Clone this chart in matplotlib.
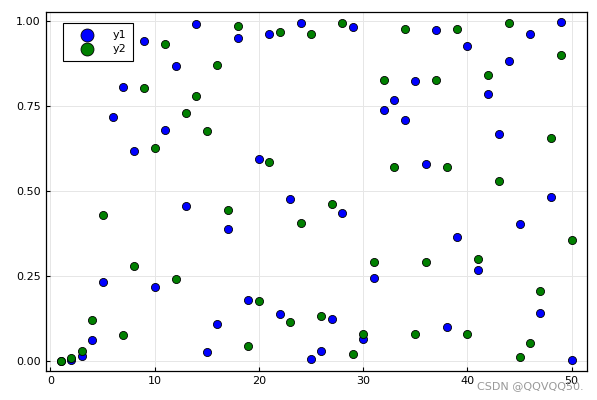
import matplotlib.pyplot as plt
import numpy as np

x = np.arange(1, 51)

y1 = [0.000, 0.003, 0.014, 0.061, 0.233, 0.718, 0.807, 0.619, 0.941, 0.217,
      0.680, 0.867, 0.457, 0.992, 0.027, 0.109, 0.389, 0.951, 0.180, 0.593,
      0.962, 0.137, 0.475, 0.996, 0.006, 0.030, 0.123, 0.434, 0.982, 0.064,
      0.243, 0.739, 0.768, 0.709, 0.823, 0.579, 0.974, 0.100, 0.365, 0.926,
      0.268, 0.786, 0.668, 0.884, 0.403, 0.962, 0.140, 0.483, 0.997, 0.002]

y2 = [0.000, 0.007, 0.030, 0.121, 0.429, 0.930, 0.075, 0.278, 0.804, 0.626,
      0.934, 0.240, 0.731, 0.781, 0.677, 0.871, 0.444, 0.986, 0.045, 0.176,
      0.584, 0.969, 0.114, 0.406, 0.963, 0.133, 0.463, 0.994, 0.020, 0.078,
      0.290, 0.826, 0.570, 0.978, 0.078, 0.290, 0.826, 0.571, 0.977, 0.080,
      0.300, 0.841, 0.528, 0.995, 0.012, 0.053, 0.206, 0.656, 0.900, 0.355]

yticks = [0.0, 0.25, 0.5, 0.75, 1.0]
ytick_labels = ['0.00', '0.25', '0.50', '0.75', '1.00']
xticks = [0, 10, 20, 30, 40, 50]

fig = plt.figure(figsize=(5.97, 4.0), dpi=100)
ax = fig.add_axes([45.5 / 597, 1 - 371 / 400, (587 - 45.5) / 597, (371 - 12) / 400])

ax.scatter(x, y1, s=34, c='blue', edgecolors='black', linewidths=0.6, label='y1', zorder=3)
ax.scatter(x, y2, s=34, c='green', edgecolors='black', linewidths=0.6, label='y2', zorder=3)

ax.set_xlim(-0.47, 51.47)
ax.set_ylim(-0.03, 1.027)
ax.set_xticks(xticks)
ax.set_yticks(yticks)
ax.set_yticklabels(ytick_labels)
ax.tick_params(direction='in', length=3, width=0.8, labelsize=8, colors='black')
ax.grid(True, color='#e6e6e6', linewidth=0.7)
ax.set_axisbelow(True)
for s in ax.spines.values():
    s.set_linewidth(0.9)

leg = ax.legend(loc='upper left', bbox_to_anchor=(0.032, 0.969), fancybox=False,
                edgecolor='black', framealpha=1, fontsize=8, markerscale=1.6,
                handlelength=3.0, handletextpad=0.8, borderpad=0.65,
                labelspacing=0.3, borderaxespad=0)
leg.get_frame().set_linewidth(0.8)
leg.set_zorder(5)

# watermark
fig.text(0.978, 0.022, 'CSDN @QQVQQ50.', ha='right', va='bottom', fontsize=8, color='#999999')

fig.savefig('out.png', dpi=100)
